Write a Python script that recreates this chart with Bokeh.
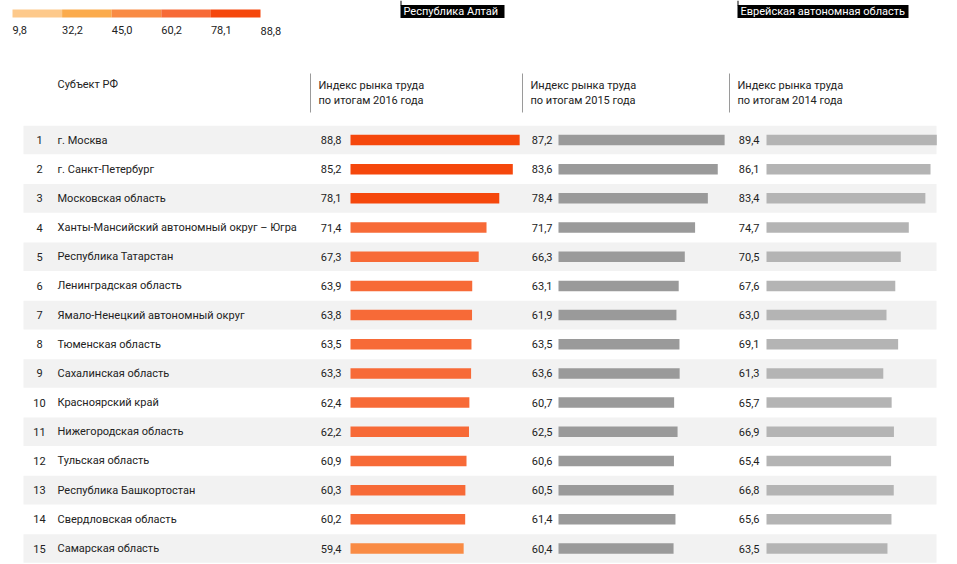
from bokeh.plotting import figure
from bokeh.models import Range1d, ColumnDataSource
from bokeh.core.properties import value
from bokeh.embed import file_html
from bokeh.resources import INLINE

# ---------------- data ----------------
ranks = list(range(1, 16))
names = ["г. Москва", "г. Санкт-Петербург", "Московская область",
         "Ханты-Мансийский автономный округ – Югра", "Республика Татарстан",
         "Ленинградская область", "Ямало-Ненецкий автономный округ",
         "Тюменская область", "Сахалинская область", "Красноярский край",
         "Нижегородская область", "Тульская область", "Республика Башкортостан",
         "Свердловская область", "Самарская область"]
v2016 = [88.8, 85.2, 78.1, 71.4, 67.3, 63.9, 63.8, 63.5, 63.3, 62.4, 62.2, 60.9, 60.3, 60.2, 59.4]
v2015 = [87.2, 83.6, 78.4, 71.7, 66.3, 63.1, 61.9, 63.5, 63.6, 60.7, 62.5, 60.6, 60.5, 61.4, 60.4]
v2014 = [89.4, 86.1, 83.4, 74.7, 70.5, 67.6, 63.0, 69.1, 61.3, 65.7, 66.9, 65.4, 66.8, 65.6, 63.5]
legend_breaks = [9.8, 32.2, 45.0, 60.2, 78.1, 88.8]
legend_colors = ["#fdc98b", "#fbab4c", "#f98b44", "#f76a37", "#f5470c"]
col_headers = [["Индекс рынка труда", "по итогам 2016 года"],
               ["Индекс рынка труда", "по итогам 2015 года"],
               ["Индекс рынка труда", "по итогам 2014 года"]]
callouts = ["Республика Алтай", "Еврейская автономная область"]
subject_header = "Субъект РФ"

# ---------------- helpers ----------------
FONT = value("Roboto")
FS = "11px"
TXT = "#222222"

def fmt(v):
    return f"{v:.1f}".replace(".", ",")

def bin_color(v):
    for i in range(len(legend_colors)):
        if legend_breaks[i] <= v < legend_breaks[i + 1]:
            return legend_colors[i]
    return legend_colors[-1]

W, H = 957, 564
p = figure(width=W, height=H, output_backend="svg", toolbar_location=None,
           x_range=Range1d(0, W), y_range=Range1d(H, 0),
           x_axis_location=None, y_axis_location=None, min_border=0)
p.grid.visible = False
p.outline_line_color = None
p.background_fill_color = "white"
p.border_fill_color = "white"

K = 1.905  # px per index unit
zeros = {"y2016": 350, "y2015": 558, "y2014": 766}
for key, z in zeros.items():
    p.extra_x_ranges[key] = Range1d(-z / K, (W - z) / K)
PITCH = 29.18
ROW1 = 139.5
p.extra_y_ranges["rows"] = Range1d(1 + (H - ROW1) / PITCH, 1 - ROW1 / PITCH)

src = ColumnDataSource(dict(
    rank=ranks, rank_s=[str(r) for r in ranks], name=names,
    v2016=v2016, v2015=v2015, v2014=v2014,
    l2016=[fmt(v) for v in v2016], l2015=[fmt(v) for v in v2015], l2014=[fmt(v) for v in v2014],
    c2016=[bin_color(v) for v in v2016],
    shade=["#f2f2f2" if r % 2 == 1 else "white" for r in ranks],
))

# row shading
p.hbar(y="rank", height=0.98, left=23, right=936, source=src, y_range_name="rows",
       fill_color="shade", line_color=None)

# bars
p.hbar(y="rank", left=0, right="v2016", height=0.36, source=src, y_range_name="rows",
       x_range_name="y2016", fill_color="c2016", line_color=None)
p.hbar(y="rank", left=0, right="v2015", height=0.36, source=src, y_range_name="rows",
       x_range_name="y2015", fill_color="#9a9a9a", line_color=None)
p.hbar(y="rank", left=0, right="v2014", height=0.36, source=src, y_range_name="rows",
       x_range_name="y2014", fill_color="#b4b4b4", line_color=None)

tk = dict(text_font=FONT, text_font_size=FS, text_color=TXT, text_baseline="middle",
          source=src, y_range_name="rows")
p.text(x=39, y="rank", text="rank_s", text_align="center", **tk)
p.text(x=57, y="rank", text="name", text_align="left", **tk)
p.text(x=341, y="rank", text="l2016", text_align="right", **tk)
p.text(x=552, y="rank", text="l2015", text_align="right", **tk)
p.text(x=759, y="rank", text="l2014", text_align="right", **tk)

# header
hk = dict(text_font=FONT, text_font_size=FS, text_color=TXT, text_baseline="middle")
p.text(x=[57], y=[84], text=[subject_header], text_align="left", **hk)
line_x = [310, 522, 729]
for lx, hdr in zip(line_x, col_headers):
    p.segment(x0=[lx], y0=[73], x1=[lx], y1=[112], line_color="#9a9a9a", line_width=1)
    p.text(x=[lx + 8, lx + 8], y=[85, 100], text=hdr, text_align="left", **hk)

# legend
n = len(legend_colors)
seg_w = 49.6
lx0 = [12 + i * seg_w for i in range(n)]
p.quad(left=lx0, right=[x + seg_w for x in lx0], top=[9] * n, bottom=[17] * n,
       fill_color=legend_colors, line_color=None)
p.text(x=[12 + i * seg_w for i in range(len(legend_breaks))],
       y=[29, 29, 29, 29, 29, 30.5],
       text=[fmt(b) for b in legend_breaks], text_align="left", **hk)

# callout boxes
box_x = [400, 737]
box_w = [104, 171]
for bx in box_x:
    p.segment(x0=[bx + 0.5], y0=[0], x1=[bx + 0.5], y1=[5], line_color="black", line_width=1)
p.quad(left=box_x, right=[x + w for x, w in zip(box_x, box_w)], top=[4.5, 4.5], bottom=[17.5, 17.5],
       fill_color="black", line_color=None)
p.text(x=[x + 3 for x in box_x], y=[11, 11], text=callouts, text_align="left",
       text_font=FONT, text_font_size="11px", text_color="white", text_baseline="middle")

open("out.html", "w").write(file_html(p, INLINE))
